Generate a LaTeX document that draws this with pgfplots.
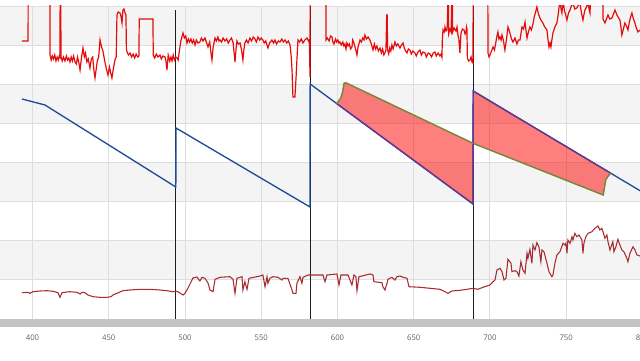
\documentclass[border=0pt]{standalone}
\usepackage{pgfplots}
\pgfplotsset{compat=1.18}
\usepackage{fontspec}
\setmainfont{Open Sans}
\definecolor{topred}{RGB}{228,12,12}
\definecolor{sawblue}{RGB}{30,76,152}
\definecolor{botred}{RGB}{165,45,50}
\definecolor{olivel}{RGB}{122,134,58}
\definecolor{edgepurple}{RGB}{96,58,150}
\definecolor{bandgray}{RGB}{244,244,244}
\definecolor{gridgray}{RGB}{222,222,222}
\definecolor{evt}{RGB}{30,30,30}
\definecolor{barg}{RGB}{196,196,196}
\definecolor{ticktext}{RGB}{96,96,96}
\begin{document}
\begin{tikzpicture}
\begin{axis}[
 set layers,
 scale only axis,
 width=495.55pt, height=234.75pt,
 xmin=378.7, xmax=812, ymin=0, ymax=313,
 axis line style={draw=none},
 xtick={400,450,...,800},
 ytick={39.125,78.25,117.375,156.5,195.625,234.75,273.875,313},
 yticklabels={},
 major tick length=0pt,
 grid=major,
 major grid style={gridgray, line width=0.7pt},
 xticklabel style={font=\fontsize{5.8}{7}\selectfont, text=ticktext, anchor=center, yshift=-14.25pt},
 /pgf/number format/assume math mode=true,
 /pgf/number format/1000 sep={},
]
\begin{pgfonlayer}{axis background}
\fill[bandgray] (axis cs:378.7,39.125) rectangle (axis cs:812,78.25);
\fill[bandgray] (axis cs:378.7,117.375) rectangle (axis cs:812,156.5);
\fill[bandgray] (axis cs:378.7,195.625) rectangle (axis cs:812,234.75);
\fill[bandgray] (axis cs:378.7,273.875) rectangle (axis cs:812,313);
\end{pgfonlayer}

% event lines
\addplot[evt, line width=0.7pt] coordinates {(494.0,0) (494.0,309)};
\addplot[evt, line width=0.7pt] coordinates {(582.0,0) (582.0,313)};
\addplot[evt, line width=0.7pt] coordinates {(688.95,0) (688.95,313)};

% sawtooth
\addplot[sawblue, line width=1pt] coordinates {
(393.1,220) (408.2,214) (494.0,132) (494.1,191) (582.0,112) (582.1,235) (688.9,115) (689.0,228) (798.4,128.3)};

% bottom series
\addplot[botred, line width=0.8pt] coordinates {
(393.1,26.3) (397.1,26.7) (398.4,25.7) (400.3,27.3) (404.9,28) (409.5,28.3) (413.5,27.7) (416.7,26.3) (418.0,21.7) (419.4,26.3)
(422.6,27) (424.6,27.3) (429.2,26.7) (431.2,25) (432.5,26.7) (434.4,26.3) (436.4,24) (439.7,22.3) (444.3,21.7) (448.9,21.7)
(451.5,22.3) (452.8,24) (455.4,25.7) (459.3,28.3) (464.0,29) (470.5,29.7) (477.1,29.7) (483.6,29) (488.2,28.3) (492.1,27.3)
(494.8,27.7) (496.7,26) (498.7,24) (500.0,25.7) (502.0,31) (504.6,39) (505.2,41) (507.9,42) (509.8,38) (511.2,41.7)
(513.1,40.7) (515.1,36) (516.4,29) (518.4,27.3) (519.7,39.7) (523.0,41.7) (529.5,42.3) (531.5,39.7) (532.8,25.7) (534.1,40.7)
(537.4,42.3) (538.0,29) (539.3,37.3) (540.7,29.7) (542.0,40.7) (549.2,43) (551.1,44) (552.5,32.3) (553.8,42.3) (554.4,35.7)
(555.7,40.7) (557.7,42.3) (561.0,41.7) (563.6,39) (564.3,40.7) (567.5,40.7) (570.2,29) (570.8,25.7) (572.8,25.7) (573.4,35.7)
(575.4,42.3) (576.7,35.7) (577.4,41.7) (580.7,44) (583.3,44) (590.5,44) (591.8,37.3) (593.1,44) (599.7,45) (601.0,34)
(602.3,44) (606.9,44) (609.5,34) (610.8,44) (612.1,42.3) (612.8,28.3) (614.1,42.3) (621.3,45) (623.3,44) (623.9,37.3)
(629.2,36.3) (629.8,32.3) (631.1,29) (632.5,35.7) (633.1,39.7) (635.7,41.7) (637.7,39) (639.0,42.3) (641.0,43) (643.0,41.7)
(645.6,40.7) (646.9,32.3) (654.1,31.7) (660.7,30.7) (667.2,29.7) (670.5,27.3) (672.5,25.7) (675.1,28) (680.3,28.7) (684.9,29.7)
(688.9,30.7) (692.1,29.7) (695.4,31.7) (700.0,34) (702.0,37.3) (703.3,39) (704.6,49) (706.6,50.7) (707.9,47.3) (709.2,39)
(710.5,40.7) (711.8,59.7) (713.8,55.7) (714.4,47.3) (716.4,48.3) (717.7,47.3) (719.0,43) (720.3,57.3) (721.6,49) (723.0,45.7)
(724.3,65.7) (724.9,60.7) (726.2,69.7) (727.5,55.7) (728.2,74) (729.5,69) (730.8,76.3) (732.1,72.3) (733.4,57.3) (734.1,69)
(735.4,67.3) (737.4,55.7) (738.7,47.3) (740.6,42.3) (741.3,44) (742.6,55.7) (743.9,64) (745.9,67.3) (747.9,75.7) (749.2,74)
(749.8,75.7) (750.5,65.7) (751.1,79) (752.5,75.7) (753.8,82.3) (754.4,79) (755.7,85.7) (757.0,82.3) (758.4,84) (760.3,79)
(761.0,65.7) (761.6,75.7) (762.9,82.3) (764.3,85.7) (766.9,87.3) (768.8,90.7) (770.8,93) (772.1,89) (773.4,90.7) (774.1,87.3)
(775.4,80.7) (776.7,84) (777.4,77.3) (778.7,69) (780.6,77.3) (781.3,67.3) (782.6,72.3) (783.9,79.7) (785.2,74) (786.5,69)
(787.8,67.3) (789.8,60.7) (790.5,57.3) (791.8,65.7) (793.8,72.3) (795.1,69) (796.4,64) (798.4,63)};

% top series
\addplot[topred, line width=0.9pt] coordinates {
(393.1,278) (397.1,278) (397.2,345) (411.4,345) (411.5,264) (412.3,259) (413.0,263) (413.8,260) (414.6,264) (415.4,258)
(416.2,262) (417.0,259) (417.6,263) (418.0,262) (418.2,345) (418.5,345) (418.7,262) (419.5,258) (420.3,262) (421.3,258)
(422.2,263) (423.0,259) (423.8,261) (424.6,257) (425.4,262) (426.2,258) (427.0,263) (427.9,257) (428.8,255) (429.5,262)
(430.2,258) (431.2,249) (432.2,262) (433.1,271) (434.0,262) (434.8,266) (435.7,257) (436.6,260) (437.7,251) (438.6,260)
(439.5,262) (440.2,250) (441.0,241) (441.8,250) (442.5,258) (443.4,262) (444.3,279) (445.3,272) (446.2,268) (447.5,257)
(448.5,250) (449.5,244) (450.5,252) (451.3,246) (452.1,241) (453.0,250) (454.1,259) (454.9,262) (455.4,304) (456.2,307)
(457.4,306) (458.0,303) (458.7,296) (459.3,309) (460.0,310) (460.7,306) (461.3,304) (461.6,270) (462.0,267) (463.0,264)
(464.0,266) (465.0,262) (466.0,265) (467.0,261) (468.0,265) (469.0,262) (469.8,263) (470.0,300) (479.0,300) (479.2,264)
(480.2,261) (481.2,265) (482.3,262) (483.6,264) (484.5,260) (485.5,263) (486.9,262) (487.5,258) (488.2,249) (489.0,264)
(490.0,258) (490.8,262) (491.5,258) (492.3,264) (493.1,259) (494.0,262) (494.8,261) (495.5,259) (496.5,270) (497.3,278)
(498.0,282) (498.7,286) (499.6,281) (500.5,283) (501.3,276) (502.2,280) (503.0,277) (503.9,280) (504.8,276) (505.7,279)
(506.6,274) (507.5,279) (508.5,276) (509.8,277) (510.8,281) (511.8,278) (513.1,281) (514.2,276) (515.1,272) (516.2,277)
(516.9,268) (517.7,259) (518.5,272) (519.7,281) (520.6,278) (521.6,282) (522.3,278) (523.0,279) (524.0,277) (525.0,281)
(526.2,278) (527.3,280) (528.4,276) (529.5,279) (530.5,281) (531.6,276) (532.3,265) (532.8,257) (533.5,270) (534.1,278)
(535.0,275) (536.1,276) (537.0,270) (538.0,259) (538.7,270) (539.3,276) (540.3,279) (541.4,276) (542.6,281) (543.6,278)
(544.8,282) (545.9,280) (546.8,277) (547.9,282) (549.0,279) (550.0,281) (551.1,279) (552.0,276) (553.0,278) (554.4,271)
(555.5,276) (557.0,279) (558.1,276) (559.0,279) (560.0,275) (561.2,278) (562.3,277) (563.5,280) (564.5,277) (565.6,279)
(566.7,276) (567.8,278) (568.9,274) (569.7,262) (570.2,249) (570.6,230) (570.8,222) (572.1,222) (572.8,240) (573.4,259)
(574.1,279) (575.2,277) (576.3,280) (577.4,276) (578.6,279) (580.0,281) (581.0,278) (581.5,279) (581.8,260) (582.0,242)
(582.1,345) (592.4,345) (592.5,279) (593.5,281) (594.5,278) (595.5,283) (596.4,282) (597.0,277) (597.7,275) (598.8,280)
(599.5,277) (600.3,279) (601.0,276) (601.6,277) (602.5,274) (603.5,277) (604.2,273) (604.9,275) (605.6,270) (606.2,276)
(607.0,273) (607.8,275) (608.6,270) (609.5,272) (610.0,279) (610.8,276) (611.5,272) (612.2,268) (612.8,264) (613.5,272)
(614.8,279) (615.7,277) (616.6,281) (617.4,279) (618.0,284) (619.0,280) (620.1,282) (621.3,279) (622.2,275) (623.3,269)
(624.2,275) (625.0,270) (625.9,273) (626.8,268) (627.9,271) (628.8,266) (629.6,270) (630.4,264) (631.1,266) (631.8,269)
(632.3,304) (632.6,304) (632.9,269) (633.6,265) (634.3,271) (635.0,268) (635.7,274) (636.5,270) (637.7,277) (638.6,273)
(639.6,275) (641.0,271) (642.0,274) (643.0,276) (643.8,271) (644.7,268) (645.6,266) (646.5,270) (647.5,269) (648.4,265)
(649.4,268) (650.8,266) (651.7,263) (652.8,267) (654.1,269) (655.0,264) (656.0,267) (657.4,266) (658.3,262) (659.5,266)
(660.7,265) (661.7,262) (662.8,266) (663.9,267) (664.8,263) (666.0,266) (667.2,263) (668.0,265) (668.5,262) (668.8,280)
(669.2,289) (670.0,287) (670.5,292) (671.2,288) (671.8,289) (672.2,300) (672.4,345) (672.7,345) (672.9,285) (673.8,290)
(674.6,287) (675.0,345) (675.3,345) (675.5,287) (676.5,291) (677.7,288) (678.4,292) (679.0,284) (679.6,280) (680.3,266)
(681.0,286) (682.0,290) (683.0,289) (683.7,285) (684.3,287) (684.6,292) (684.9,290) (685.2,261) (686.0,258) (686.9,259)
(687.6,262) (688.2,257) (688.9,256) (689.0,345) (698.6,345) (698.7,266) (699.4,262) (700.0,264) (701.0,268) (702.0,272)
(703.0,269) (703.9,277) (704.6,283) (705.2,287) (705.9,280) (706.6,282) (707.3,279) (707.9,284) (708.9,278) (709.8,269)
(710.7,278) (711.8,292) (712.5,289) (713.1,286) (714.1,280) (715.1,277) (716.4,281) (717.7,275) (718.7,279) (719.7,279)
(720.4,286) (721.0,292) (722.0,290) (723.0,297) (723.6,289) (724.3,281) (725.2,287) (726.2,292) (727.2,289) (728.2,295)
(729.0,302) (729.8,306) (730.8,312) (731.8,305) (732.8,301) (733.8,298) (734.7,296) (735.9,292) (737.4,289) (738.0,280)
(738.7,272) (739.4,276) (740.0,272) (740.7,280) (741.3,286) (742.6,292) (743.9,296) (744.8,305) (745.9,320) (746.6,310)
(747.2,306) (747.9,318) (748.9,308) (749.7,304) (750.5,299) (751.5,306) (752.5,309) (753.4,313) (754.4,316) (755.6,310)
(757.0,311) (758.0,314) (759.0,316) (760.0,306) (761.0,299) (761.7,305) (762.3,309) (763.3,312) (764.3,316) (765.0,310)
(765.6,306) (766.0,320) (766.2,345) (774.0,345) (774.1,300) (775.4,296) (776.4,300) (777.4,304) (778.6,300) (780.0,301)
(781.0,305) (782.0,309) (783.0,305) (784.0,302) (785.2,299) (785.9,292) (786.5,284) (787.5,290) (788.5,296) (789.5,293)
(790.5,289) (791.4,297) (792.2,302) (793.1,306) (794.1,300) (795.1,296) (796.0,291) (797.0,287) (798.4,289)};

% shaded band between olive line and sawtooth
\addplot[draw=none, fill=red, fill opacity=0.5] coordinates {
(599.5,215.4) (602.1,220.7) (603.4,227.3) (604.3,235.7) (605.4,236.3) (688.9,175.7) (774.3,124) (775.9,139) (777.2,142.3)
(778.2,144) (779.1,145.9) (689.0,228) (688.9,115) (599.5,215.4)} -- cycle;

% sawtooth edge of the band, seen through the fill
\addplot[edgepurple, line width=1pt] coordinates {
(599.5,215.4) (688.9,115) (689.0,228) (779.1,145.9)};

\addplot[olivel, line width=1.1pt] coordinates {
(599.5,215.4) (602.1,220.7) (603.4,227.3) (604.3,235.7) (605.4,236.3) (688.9,175.7) (774.3,124) (775.9,139) (777.2,142.3)
(778.2,144) (779.1,145.9)};

\coordinate (bbr) at (axis cs:798.4,313);
\end{axis}
\fill[barg] ([yshift=-0.2pt]current axis.south west) rectangle ([yshift=-5.8pt]current axis.south east);
\pgfresetboundingbox
\path[use as bounding box] ([yshift=-30.75pt]current axis.south west) rectangle ([yshift=4.5pt]bbr);
\end{tikzpicture}
\end{document}
